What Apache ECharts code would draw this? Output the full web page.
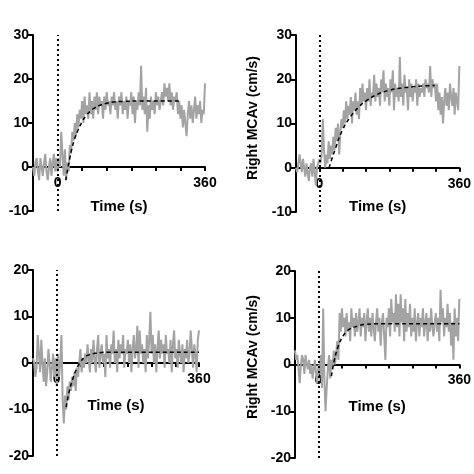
<!DOCTYPE html>
<html>
<head>
<meta charset="utf-8">
<script src="https://cdn.jsdelivr.net/npm/echarts@6/dist/echarts.min.js"></script>
<style>html,body{margin:0;padding:0;background:#fff}#c{width:474px;height:474px}</style>
</head>
<body>
<div id="c"></div>
<script>
// Sampling: first sample at -60 s, one sample every 3 s
const T_START = -60, T_STEP = 3;
const xTickLabels = [0, 360];
const xName = 'Time (s)';
const yName = 'Right MCAv (cm/s)';

// Panel 1 (top-left) raw data
const p1Data = [
  0, -2, 1, 2, -1, -3, 2, 0, -2, 1,
  3, -1, -3, 0, 2, -2, 1, 3, -1, 2,
  -1, 2, 0, 8, 3, -2, 4, -3, 1, -1,
  5, 3, 8, 6, 10, 7, 12, 9, 13, 11,
  15, 10, 16, 12, 14, 11, 17, 12, 15, 11,
  16, 13, 17, 12, 16, 14, 15, 11, 16, 13,
  17, 14, 15, 12, 16, 14, 17, 13, 15, 11,
  16, 14, 17, 12, 15, 13, 16, 11, 15, 14,
  17, 12, 16, 10, 15, 13, 17, 14, 23, 13,
  16, 12, 18, 8, 14, 11, 16, 13, 15, 12,
  17, 14, 16, 13, 15, 17, 14, 19, 16, 18,
  15, 19, 14, 17, 13, 16, 15, 17, 12, 15,
  11, 14, 9, 13, 10, 7, 12, 15, 11, 14,
  10, 13, 16, 11, 14, 12, 15, 10, 13, 12,
  19
];
const p1FitT = [20, 30, 40, 50, 60, 70, 80, 90, 100, 120, 140, 160, 200, 300];
const p1FitY = [-3, 2.1, 5.9, 8.4, 10.3, 11.7, 12.7, 13.4, 13.9, 14.5, 14.8, 14.9, 15, 15];

// Panel 2 (top-right)
const p2Data = [
  0, -1, 1, 3, 1, -1, 2, 0, -2, 1,
  -1, -3, 0, 1, -2, 2, -1, -4, 0, 1,
  2, 1, 3, 11, 4, 0, 3, 1, 6, 2,
  5, 3, 7, 4, 9, 6, 10, 3, 8, 11,
  9, 13, 10, 15, 11, 14, 12, 16, 10, 15,
  13, 17, 12, 15, 11, 18, 14, 19, 15, 17,
  13, 18, 15, 20, 14, 17, 16, 21, 15, 19,
  16, 18, 14, 20, 17, 22, 15, 19, 16, 18,
  14, 20, 17, 22, 13, 19, 16, 18, 15, 25,
  16, 19, 14, 21, 17, 18, 13, 20, 16, 19,
  15, 18, 17, 20, 14, 19, 16, 18, 17, 19,
  16, 20, 18, 19, 17, 23, 16, 20, 18, 19,
  15, 19, 13, 17, 12, 16, 10, 15, 18, 14,
  17, 13, 19, 16, 14, 18, 12, 17, 15, 13,
  23
];
const p2FitT = [25, 40, 60, 80, 100, 120, 150, 180, 210, 240, 270, 297];
const p2FitY = [0, 4, 8.6, 11.5, 13.6, 15.1, 16.6, 17.5, 18.0, 18.3, 18.5, 18.6];

// Panel 3 (bottom-left)
const p3Data = [
  1, 0, -3, -1, 6, 2, -2, 5, 0, -4,
  1, -5, -2, 3, 0, -4, -1, 2, -3, 1,
  -5, 2, -3, 0, 6, -8, -13, -7, -10, -5,
  -8, -4, -6, -3, -5, -2, -6, -1, -3, 0,
  3, -2, 1, -1, 2, 0, 4, 1, -2, 3,
  0, 5, 1, -2, 3, 6, -1, 2, 4, 0,
  2, -3, 6, 1, 3, -1, 4, 2, 7, 0,
  3, -2, 5, 1, 4, 2, 6, -1, 3, 2,
  5, 0, 4, -2, 3, 6, 1, 3, 8, -1,
  7, 2, 4, 0, 3, -2, 6, 1, 5, 11,
  2, 6, 0, 4, -2, 3, 7, 1, 5, 2,
  4, -1, 6, 2, 3, 0, 5, -2, 4, 7,
  1, 3, -1, 5, 2, 0, 4, -2, 3, 1,
  5, 0, 2, 7, 3, -1, 4, 2, -2, 5,
  7
];
const p3FitT = [24, 30, 40, 50, 60, 70, 80, 100, 130, 360];
const p3FitY = [-9.5, -6.7, -3.6, -1.3, 0.2, 1.2, 1.7, 2.1, 2.3, 2.3];

// Panel 4 (bottom-right)
const p4Data = [
  3, 1, 2, -1, -4, 0, 2, 1, -2, 2,
  0, -1, 1, -2, 0, -3, -1, 1, -2, -4,
  0, -2, 2, -5, 12, -3, -10, -5, -1, 2,
  -3, 1, -1, 3, 0, 2, 5, 1, 11, 7,
  12, 8, 10, 6, 11, 7, 9, 5, 12, 8,
  10, 6, 11, 7, 9, 12, 6, 10, 8, 11,
  5, 9, 12, 7, 10, 6, 11, 8, 5, 9,
  12, 7, 10, 4, 9, 11, 6, 1, 10, 8,
  12, 6, 14, 9, 11, 7, 15, 8, 13, 6,
  15, 9, 12, 5, 14, 7, 11, 8, 13, 6,
  10, 7, 12, 5, 9, 11, 6, 10, 8, 12,
  6, 9, 11, 5, 10, 7, 12, 8, 6, 9,
  11, 7, 10, 5, 16, 9, 12, 6, 10, 8,
  13, 7, 11, 4, 9, 1, 12, 6, 10, 5,
  14
];
const p4FitT = [33, 40, 50, 60, 70, 80, 100, 120, 150, 360];
const p4FitY = [-2.5, 0.7, 3.8, 5.7, 6.9, 7.6, 8.2, 8.6, 8.7, 8.7];

const panels = [
  {data: p1Data, fitT: p1FitT, fitY: p1FitY, yMin: -10, yMax: 30, grid: {left: 33, top: 35, width: 172, height: 176}, nameGap: 32, yLabel: false},
  {data: p2Data, fitT: p2FitT, fitY: p2FitY, yMin: -10, yMax: 30, grid: {left: 296, top: 35, width: 173, height: 177}, nameGap: 32, yLabel: true, yLabelPos: [253, 118]},
  {data: p3Data, fitT: p3FitT, fitY: p3FitY, yMin: -20, yMax: 20, grid: {left: 33, top: 270, width: 166, height: 186}, nameGap: 35, yLabel: false},
  {data: p4Data, fitT: p4FitT, fitY: p4FitY, yMin: -20, yMax: 20, grid: {left: 295, top: 271, width: 167, height: 187}, nameGap: 35, yLabel: true, yLabelPos: [253, 357]}
];

const FONT = '"Liberation Sans", Arial, Helvetica, sans-serif';
const grids = [], xAxes = [], yAxes = [], series = [], graphics = [];

panels.forEach((p, i) => {
  grids.push(Object.assign({containLabel: false}, p.grid));
  // place the x axis on the y = 0 line (move it up from the grid bottom)
  const zeroOffset = -p.grid.height * (0 - p.yMin) / (p.yMax - p.yMin);
  xAxes.push({
    type: 'value', gridIndex: i, min: -60, max: 360, interval: 60,
    position: 'bottom', offset: zeroOffset,
    axisLine: {onZero: false, lineStyle: {color: '#000', width: 2}},
    axisTick: {show: true, length: 4, lineStyle: {color: '#000', width: 2}},
    splitLine: {show: false},
    axisLabel: {
      color: '#000', fontWeight: 'bold', fontSize: 14, fontFamily: FONT, margin: 9,
      formatter: v => xTickLabels.indexOf(v) >= 0 ? String(v) : ''
    },
    name: xName, nameLocation: 'middle', nameGap: p.nameGap,
    nameTextStyle: {color: '#000', fontWeight: 'bold', fontSize: 15, fontFamily: FONT}
  });
  yAxes.push({
    type: 'value', gridIndex: i, min: p.yMin, max: p.yMax, interval: 10,
    axisLine: {show: true, onZero: false, lineStyle: {color: '#000', width: 2}},
    axisTick: {show: true, length: 5, lineStyle: {color: '#000', width: 2}},
    splitLine: {show: false},
    axisLabel: {color: '#000', fontWeight: 'bold', fontSize: 14, fontFamily: FONT, margin: 4}
  });
  series.push({
    type: 'line', xAxisIndex: i, yAxisIndex: i, showSymbol: false, symbol: 'none',
    data: p.data.map((v, k) => [T_START + T_STEP * k, v]),
    lineStyle: {color: '#a3a3a3', width: 2}, z: 2, animation: false
  });
  series.push({
    type: 'line', xAxisIndex: i, yAxisIndex: i, showSymbol: false, symbol: 'none',
    smooth: true,
    data: p.fitT.map((t, k) => [t, p.fitY[k]]),
    lineStyle: {color: '#000', width: 1.5, type: [4, 3]}, z: 3, animation: false,
    markLine: {
      silent: true, symbol: 'none', label: {show: false},
      lineStyle: {color: '#000', width: 2, type: [2, 3]},
      data: [{xAxis: 0}], animation: false
    }
  });
  if (p.yLabel) {
    graphics.push({
      type: 'text', x: p.yLabelPos[0], y: p.yLabelPos[1], rotation: Math.PI / 2,
      style: {text: yName, fill: '#000', font: 'bold 14px ' + FONT, textAlign: 'center', textVerticalAlign: 'middle'}
    });
  }
});

const chart = echarts.init(document.getElementById('c'), null, {renderer: 'canvas'});
chart.setOption({
  animation: false,
  backgroundColor: '#fff',
  grid: grids, xAxis: xAxes, yAxis: yAxes, series: series, graphic: graphics
});
</script>
</body>
</html>
